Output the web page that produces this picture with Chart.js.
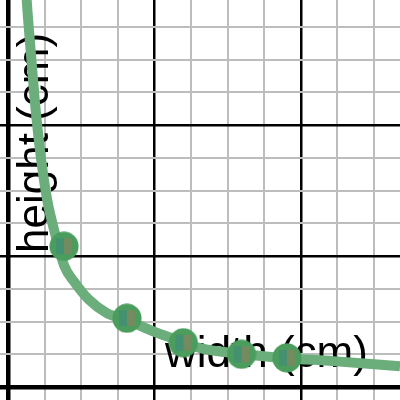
<!DOCTYPE html>
<html>
<head>
<meta charset="utf-8">
<script src="https://cdn.jsdelivr.net/npm/chart.js@4/dist/chart.umd.min.js"></script>
<style>
  html, body { margin: 0; padding: 0; background: #fff; }
  #myChart { display: block; }
</style>
</head>
<body>
<canvas id="myChart" width="400" height="400"></canvas>
<script>
// measured points
const widths = [1.53, 3.25, 4.79, 6.38, 7.62]
const heights = [4.30, 2.10, 1.35, 1.00, 0.89]

// fitted curve
const curveX = [0.51, 0.55, 0.73, 0.82, 0.93, 1.07, 1.28, 1.54, 1.83, 2.21, 2.70, 3.25, 4.06, 4.80, 5.25, 6.38, 7.62, 8.88, 10.71]
const curveY = [11.83, 11.21, 8.77, 7.76, 6.74, 5.72, 4.71, 3.69, 3.18, 2.67, 2.26, 2.04, 1.66, 1.37, 1.19, 1.01, 0.88, 0.79, 0.63]

// grid lines (no labels shown)
const xTicks = [0, 1, 2, 3, 4, 5, 6, 7, 8, 9, 10]
const yTicks = [0, 1, 2, 3, 4, 5, 6, 7, 8, 9, 10, 11]

const xTitle = 'width (cm)'
const yTitle = 'height (cm)'

// marker: green dot with the blue / red halves showing through
const dot = document.createElement('canvas')
dot.width = 30
dot.height = 30
const d = dot.getContext('2d')
d.fillStyle = '#4b9d5d'
d.beginPath()
d.arc(15, 15, 14.5, 0, Math.PI * 2)
d.fill()
d.fillStyle = '#3f8b7c'
d.fillRect(7, 7, 8, 16)
d.fillStyle = '#8b8262'
d.fillRect(15, 7, 8, 16)
d.fillStyle = 'rgba(75,157,93,0.35)'
d.beginPath()
d.arc(15, 15, 14.5, 0, Math.PI * 2)
d.fill()

const gridColor = (c) => (c.tick.value % 4 === 0 ? '#000' : '#bdbdbd')
const gridWidth = (c) => (c.tick.value === 0 ? 4.5 : c.tick.value % 4 === 0 ? 2.5 : 2)

const titles = {
    id: 'titles',
    beforeDatasetsDraw(chart) {
        const ctx = chart.ctx
        ctx.save()
        ctx.fillStyle = '#000'
        ctx.font = '44px "Liberation Sans", Arial, sans-serif'
        ctx.textBaseline = 'alphabetic'
        ctx.textAlign = 'left'
        ctx.fillText(xTitle, 165, 367)
        ctx.translate(48, 253)
        ctx.rotate(-Math.PI / 2)
        ctx.fillText(yTitle, 0, 0)
        ctx.restore()
    }
}

const ctx = document.getElementById('myChart')

const myChart = new Chart(ctx, {
    type: 'scatter',
    data: {
        datasets: [{
            label: 'measured',
            data: widths.map((w, i) => ({ x: w, y: heights[i] })),
            pointStyle: dot,
            pointRadius: 15,
            pointHoverRadius: 15,
            showLine: false,
            order: 0
        }, {
            label: 'fit',
            data: curveX.map((x, i) => ({ x: x, y: curveY[i] })),
            showLine: true,
            borderColor: '#6bae7c',
            borderWidth: 10,
            pointRadius: 0,
            cubicInterpolationMode: 'monotone',
            order: 1
        }]
    },
    options: {
        responsive: false,
        animation: false,
        devicePixelRatio: 1,
        layout: { padding: 0, autoPadding: false },
        plugins: {
            legend: { display: false },
            tooltip: { enabled: false }
        },
        scales: {
            x: {
                type: 'linear',
                min: -0.2186,
                max: 10.71,
                afterBuildTicks: (s) => { s.ticks = xTicks.map(v => ({ value: v })) },
                ticks: { display: false },
                border: { display: false },
                grid: { drawTicks: false, color: gridColor, lineWidth: gridWidth }
            },
            y: {
                type: 'linear',
                min: -0.397,
                max: 11.82,
                afterBuildTicks: (s) => { s.ticks = yTicks.map(v => ({ value: v })) },
                ticks: { display: false },
                border: { display: false },
                grid: { drawTicks: false, color: gridColor, lineWidth: gridWidth }
            }
        }
    },
    plugins: [titles]
})
</script>
</body>
</html>
